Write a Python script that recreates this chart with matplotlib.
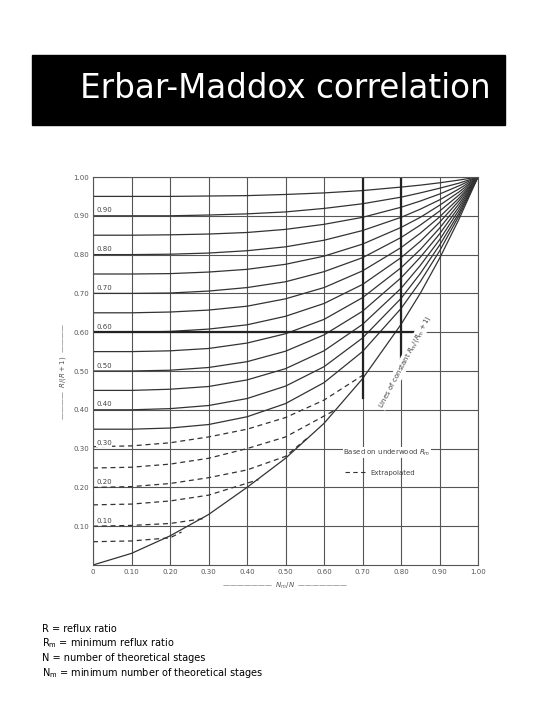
import matplotlib.pyplot as plt
import numpy as np

# x positions of the read-off points (Nm/N)
x_pts = [0, 0.1, 0.2, 0.3, 0.4, 0.5, 0.6, 0.7, 0.8, 0.85, 0.9, 0.95, 1.0]

# solid curves, keyed by start value R/(R+1) at Nm/N = 0
solid = {
    0.95: [.95, .95, .950, .951, .952, .955, .959, .965, .974, .979, .985, .992, 1],
    0.90: [.90, .90, .900, .902, .905, .910, .919, .931, .948, .959, .971, .984, 1],
    0.85: [.85, .85, .851, .853, .857, .865, .878, .896, .922, .938, .956, .977, 1],
    0.80: [.80, .80, .801, .804, .810, .820, .837, .862, .896, .917, .941, .969, 1],
    0.75: [.75, .75, .751, .755, .762, .775, .796, .827, .870, .896, .927, .961, 1],
    0.70: [.70, .70, .701, .706, .715, .730, .756, .792, .844, .876, .912, .953, 1],
    0.65: [.65, .65, .652, .657, .667, .686, .715, .758, .818, .855, .897, .945, 1],
    0.60: [.60, .60, .602, .608, .619, .641, .674, .723, .792, .834, .883, .938, 1],
    0.55: [.55, .55, .552, .558, .572, .596, .633, .689, .766, .813, .868, .930, 1],
    0.50: [.50, .50, .502, .509, .524, .551, .593, .654, .740, .793, .853, .922, 1],
    0.45: [.45, .45, .453, .460, .477, .506, .552, .620, .713, .772, .838, .914, 1],
    0.40: [.40, .40, .403, .411, .429, .461, .511, .585, .687, .751, .824, .906, 1],
    0.35: [.35, .35, .353, .362, .382, .416, .470, .550, .661, .730, .809, .899, 1],
}

# lower envelope
env_y = [0, .03, .075, .13, .2, .275, .365, .48, .62, .70, .79, .89, 1]

# extrapolated (dashed) curves: x and y values
dashed = [
    ([0, .1, .2, .3, .4, .5, .6, .71], [.305, .307, .315, .33, .35, .38, .425, .495]),
    ([0, .1, .2, .3, .4, .5, .63], [.25, .252, .26, .275, .30, .33, .40]),
    ([0, .1, .2, .3, .4, .5, .56], [.20, .202, .21, .225, .245, .28, .33]),
    ([0, .1, .2, .3, .43], [.155, .157, .165, .18, .22]),
    ([0, .1, .2, .29], [.10, .102, .107, .12]),
    ([0, .1, .2, .23], [.06, .062, .07, .085]),
]

curve_labels = ['0.90', '0.80', '0.70', '0.60', '0.50', '0.40', '0.30', '0.20', '0.10']
label_y = [0.90, 0.80, 0.70, 0.60, 0.50, 0.40, 0.30, 0.20, 0.10]
ticks = [0.1 * i for i in range(11)]
tick_labels = ['0', '0.10', '0.20', '0.30', '0.40', '0.50', '0.60', '0.70', '0.80', '0.90', '1.00']

lc = '#333333'
fig = plt.figure(figsize=(5.57, 7.25), dpi=100)

# black title banner
fig.patches.append(plt.Rectangle((32 / 557, 1 - 125 / 725), 473 / 557, 70 / 725,
                                 transform=fig.transFigure, color='black'))
fig.text(80 / 557, 1 - 88 / 725, 'Erbar-Maddox correlation', color='white',
         fontsize=23.5, ha='left', va='center')

ax = fig.add_axes([93 / 557, 160 / 725, 385 / 557, 388 / 725])
ax.set_xlim(0, 1)
ax.set_ylim(0, 1)
ax.set_xticks(ticks)
ax.set_yticks(ticks[1:])
ax.set_xticklabels(tick_labels, fontsize=5, color='#555555')
ax.set_yticklabels(tick_labels[1:], fontsize=5, color='#555555')
ax.tick_params(length=0, pad=3)
ax.grid(True, color='#555555', lw=0.8)
for s in ax.spines.values():
    s.set_color('#555555')

for y0, ys in solid.items():
    yy = np.maximum(ys, env_y)
    ax.plot(x_pts, yy, color=lc, lw=0.9)
ax.plot(x_pts, env_y, color=lc, lw=0.9)
for xs, ys in dashed:
    ax.plot(xs, ys, color=lc, lw=0.9, ls=(0, (4, 3)))

# heavier construction lines
ax.plot([0, 0.85], [0.6, 0.6], color='#222222', lw=1.6)
ax.plot([0.7, 0.7], [0.43, 1.0], color='#222222', lw=1.6)
ax.plot([0.8, 0.8], [0.53, 1.0], color='#222222', lw=1.6)

for t, y in zip(curve_labels, label_y):
    ax.text(0.008, y + 0.006, t, fontsize=5, color='#444444', va='bottom',
            bbox=dict(facecolor='white', edgecolor='none', pad=0.3))

ax.text(0.735, 0.40, 'Lines of constant $R_m/(R_m+1)$', fontsize=5, color='#444444',
        rotation=62, ha='left', va='bottom',
        bbox=dict(facecolor='white', edgecolor='none', pad=0.5))
ax.text(0.65, 0.285, 'Based on underwood $R_m$', fontsize=5, color='#444444',
        bbox=dict(facecolor='white', edgecolor='none', pad=0.5))
ax.plot([0.655, 0.71], [0.24, 0.24], color=lc, lw=0.8, ls=(0, (4, 3)))
ax.text(0.72, 0.232, 'Extrapolated', fontsize=5, color='#444444')

ax.set_xlabel('———————  $N_m/N$  ———————', fontsize=5, color='#555555')
ax.set_ylabel('————  $R/(R+1)$  ————', fontsize=5, color='#555555')

notes = ['R = reflux ratio', 'R$_\\mathrm{m}$ = minimum reflux ratio',
         'N = number of theoretical stages', 'N$_\\mathrm{m}$ = minimum number of theoretical stages']
for i, t in enumerate(notes):
    fig.text(42 / 557, 1 - (629 + 14.5 * i) / 725, t, fontsize=7, va='center')

fig.savefig('out.png', dpi=100)
